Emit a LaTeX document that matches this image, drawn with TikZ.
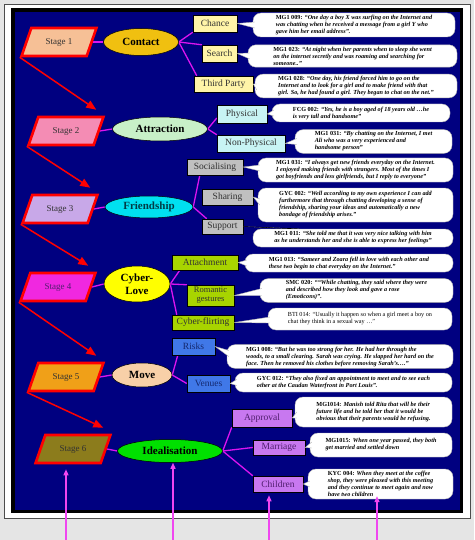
\documentclass[tikz,border=0pt]{standalone}
\usepackage{fontspec}
\setmainfont{Liberation Serif}
\usetikzlibrary{shapes.geometric,arrows.meta}
\pgfdeclarelayer{back}
\pgfdeclarelayer{bg}
\pgfsetlayers{back,bg,main}

\definecolor{navybg}{RGB}{0,0,128}
\definecolor{stageone}{RGB}{246,192,150}
\definecolor{stagetwo}{RGB}{244,140,180}
\definecolor{stagethree}{RGB}{200,168,232}
\definecolor{stagefour}{RGB}{240,40,224}
\definecolor{stagefive}{RGB}{240,160,24}
\definecolor{stagesix}{RGB}{140,124,28}
\definecolor{contactc}{RGB}{240,192,16}
\definecolor{attractc}{RGB}{200,240,200}
\definecolor{friendc}{RGB}{0,224,240}
\definecolor{lovec}{RGB}{255,255,0}
\definecolor{movec}{RGB}{248,208,168}
\definecolor{idealc}{RGB}{0,224,0}
\definecolor{paleyellow}{RGB}{255,244,168}
\definecolor{palecyan}{RGB}{200,244,244}
\definecolor{boxgray}{RGB}{192,192,192}
\definecolor{limegreen}{RGB}{168,212,0}
\definecolor{midblue}{RGB}{64,120,232}
\definecolor{violetbox}{RGB}{200,120,240}
\definecolor{linkmag}{RGB}{220,20,240}
\definecolor{pinkarrow}{RGB}{240,70,240}
\definecolor{boxtext}{RGB}{50,50,50}
\definecolor{bluetext}{RGB}{20,40,110}
\definecolor{purpletext}{RGB}{80,30,110}
\definecolor{friendtext}{RGB}{0,60,70}

\newcommand{\qfont}{\fontsize{6.2}{7}\selectfont}

\tikzset{
    stage/.style={trapezium, trapezium left angle=63, trapezium right angle=117,
        trapezium stretches=true, minimum width=75pt, minimum height=28pt,
        draw=red, line width=2.6pt, inner sep=1pt, text=boxtext,
        font=\fontsize{9}{10}\selectfont},
    topic/.style={ellipse, draw=black, line width=0.5pt, inner sep=0pt, align=center,
        font=\fontsize{11}{12.5}\selectfont\bfseries},
    subbox/.style={rectangle, draw=black, line width=0.5pt, inner sep=1pt, align=center,
        text=boxtext, font=\fontsize{9.5}{10}\selectfont},
    quote/.style={rectangle, rounded corners=8pt, fill=white, draw=gray!60, line width=0.4pt,
        inner sep=2pt, align=left, font=\qfont\bfseries\itshape},
    tail/.style={fill=white, draw=gray!60, line width=0.4pt},
    link/.style={draw=linkmag, line width=1.3pt},
    stagearrow/.style={draw=red, line width=1.5pt, -{Triangle[length=10pt,width=8pt]}},
    marker/.style={draw=pinkarrow, line width=1.3pt, -{Triangle[length=6pt,width=5pt]}}
}

\begin{document}
\begin{tikzpicture}[x=1pt, y=-1pt]
    \useasboundingbox (0,0) rectangle (474,540);
    \begin{pgfonlayer}{back}
        \fill[gray!20] (0,0) rectangle (474,540);
        \filldraw[fill=white, draw=gray!60!black, line width=0.8pt] (4,4) rectangle (470,518);
        \fill[black] (11,8) rectangle (463,513);
        \fill[navybg] (15,12) rectangle (460,510);
    \end{pgfonlayer}

    \node[stage, fill=stageone] (s1) at (59,42) {Stage 1};
    \node[stage, fill=stagetwo] (s2) at (66,131) {Stage 2};
    \node[stage, fill=stagethree] (s3) at (60,209) {Stage 3};
    \node[stage, fill=stagefour, text=purpletext] (s4) at (58,287) {Stage 4};
    \node[stage, fill=stagefive] (s5) at (66,377) {Stage 5};
    \node[stage, fill=stagesix] (s6) at (73,449) {Stage 6};

    \node[topic, fill=contactc, minimum width=75pt, minimum height=27pt] (contact) at (141,42) {Contact};
    \node[topic, fill=attractc, minimum width=95pt, minimum height=24pt] (attraction) at (160,129) {Attraction};
    \node[topic, fill=friendc, text=friendtext, minimum width=88pt, minimum height=22pt] (friendship) at (149,207) {Friendship};
    \node[topic, fill=lovec, minimum width=66pt, minimum height=36pt] (cyberlove) at (137,284) {Cyber-\\Love};
    \node[topic, fill=movec, minimum width=60pt, minimum height=24pt] (move) at (142,375) {Move};
    \node[topic, fill=idealc, minimum width=105pt, minimum height=23pt] (ideal) at (170,451) {Idealisation};

    \node[subbox, fill=paleyellow, minimum width=44pt, minimum height=17pt] (chance) at (215,23.5) {Chance};
    \node[subbox, fill=paleyellow, minimum width=35pt, minimum height=17pt] (search) at (219.5,53.5) {Search};
    \node[subbox, fill=paleyellow, minimum width=59pt, minimum height=16pt] (thirdparty) at (223.5,84) {Third Party};
    \node[subbox, fill=palecyan, minimum width=50pt, minimum height=18pt] (physical) at (242,114) {Physical};
    \node[subbox, fill=palecyan, minimum width=68pt, minimum height=17pt] (nonphysical) at (251,143.5) {Non-Physical};
    \node[subbox, fill=boxgray, minimum width=56pt, minimum height=16pt] (socialising) at (215,167) {Socialising};
    \node[subbox, fill=boxgray, minimum width=51pt, minimum height=16pt] (sharing) at (227.5,197) {Sharing};
    \node[subbox, fill=boxgray, minimum width=41pt, minimum height=15pt] (support) at (222.5,226.5) {Support};
    \node[subbox, fill=limegreen, minimum width=66pt, minimum height=15pt] (attachment) at (205,262.5) {Attachment};
    \node[subbox, fill=limegreen, minimum width=47pt, minimum height=21pt,
        font=\fontsize{8.5}{9}\selectfont] (romantic) at (210.5,295.5) {Romantic\\gestures};
    \node[subbox, fill=limegreen, minimum width=62pt, minimum height=15pt] (flirting) at (203,322.5) {Cyber-flirting};
    \node[subbox, fill=midblue, text=bluetext, minimum width=43pt, minimum height=17pt] (risks) at (193.5,346.5) {Risks};
    \node[subbox, fill=midblue, text=bluetext, minimum width=43pt, minimum height=17pt] (venues) at (208.5,383.5) {Venues};
    \node[subbox, fill=violetbox, text=purpletext, minimum width=60pt, minimum height=18pt] (approval) at (262,418) {Approval};
    \node[subbox, fill=violetbox, text=purpletext, minimum width=52pt, minimum height=15pt] (marriage) at (279,447.5) {Marriage};
    \node[subbox, fill=violetbox, text=purpletext, minimum width=50pt, minimum height=16pt] (children) at (278,484) {Children};

    \node[quote, minimum width=202pt, minimum height=24pt] (q1) at (354,25) {{\upshape MG1 009:} “One day a boy X was surfing on the Internet and\\ was chatting when he received a message from a girl Y who\\ gave him her email address”.};
    \node[quote, minimum width=209pt, minimum height=22pt] (q2) at (352.5,56) {{\upshape MG1 023:} “At night when her parents when to sleep she went\\ on the internet secretly and was roaming and searching for\\ someone..”};
    \node[quote, minimum width=202pt, minimum height=22pt] (q3) at (356,86) {{\upshape MG1 028:} “One day, his friend forced him to go on the\\ Internet and to look for a girl and to make friend with that\\ girl. So, he had found a girl. They began to chat on the net.”};
    \node[quote, minimum width=178pt, minimum height=18pt] (q4) at (361,113) {{\upshape FCG 002:} “Yes, he is a boy aged of 18 years old …he\\ is very tall and handsome”};
    \node[quote, minimum width=157pt, minimum height=23pt] (q5) at (373.5,141.5) {{\upshape MG1 031:} “By chatting on the Internet, I met\\ Ali who was a very experienced and\\ handsome person”};
    \node[quote, minimum width=195pt, minimum height=24pt] (q6) at (355.5,170) {{\upshape MG1 031:} “I always get new friends everyday on the Internet.\\ I enjoyed making friends with strangers. Most of the times I\\ got boyfriends and less girlfriends, but I reply to everyone”};
    \node[quote, minimum width=195pt, minimum height=34pt] (q7) at (355.5,205) {{\upshape GYC 002:} “Well according to my own experience I can add\\ furthermore that through chatting developing a sense of\\ friendship, sharing your ideas and automatically a new\\ bondage of friendship arises.”};
    \node[quote, minimum width=200pt, minimum height=18pt] (q8) at (353,238) {{\upshape MG1 011:} “She told me that it was very nice talking with him\\ as he understands her and she is able to express her feelings”};
    \node[quote, minimum width=208pt, minimum height=18pt] (q9) at (349,263) {{\upshape MG1 013:} “Sameer and Zoara fell in love with each other and\\ these two begin to chat everyday on the Internet.”};
    \node[quote, minimum width=193pt, minimum height=23pt] (q10) at (356.5,290.5) {{\upshape SMC 020:} ““While chatting, they said where they were\\ and described how they look and gave a rose\\ (Emoticons)”.};
    \node[quote, minimum width=184pt, minimum height=22pt, font=\qfont] (q11) at (360,319) {BTI 014: “Usually it happen so when a girl meet a boy on\\ chat they think in a sexual way …”};
    \node[quote, minimum width=226pt, minimum height=23pt] (q12) at (340,356.5) {{\upshape MG1 008:} “But he was too strong for her. He had her through the\\ woods, to a small clearing. Sarah was crying. He slapped her hard on the\\ face. Then he removed his clothes before removing Sarah’s….”};
    \node[quote, minimum width=217pt, minimum height=19pt] (q13) at (343.5,382.5) {{\upshape GYC 012:} “They also fixed an appointment to meet and to see each\\ other at the Caudan Waterfront in Port Louis”.};
    \node[quote, minimum width=157pt, minimum height=30pt] (q14) at (373.5,412) {{\upshape MG1014:} Manish told Rita that will be their\\ future life and he told her that it would be\\ obvious that their parents would be refusing.};
    \node[quote, minimum width=142pt, minimum height=24pt] (q15) at (381,445) {{\upshape MG1015:} When one year passed, they both\\ get married and settled down};
    \node[quote, minimum width=145pt, minimum height=30pt] (q16) at (380.5,484) {{\upshape KYC 004:} When they meet at the coffee\\ shop, they were pleased with this meeting\\ and they continue to meet again and now\\ have two children};

    \path[tail] ([xshift=2pt,yshift=3pt]q1.west) -- (chance.east) -- ([xshift=2pt,yshift=-3pt]q1.west);
    \path[tail] ([xshift=2pt,yshift=3pt]q2.west) -- (search.east) -- ([xshift=2pt,yshift=-3pt]q2.west);
    \path[tail] ([xshift=2pt,yshift=2pt]q3.west) -- (thirdparty.east) -- ([xshift=2pt,yshift=-4pt]q3.west);
    \path[tail] ([xshift=2pt,yshift=3pt]q4.west) -- (physical.east) -- ([xshift=2pt,yshift=-3pt]q4.west);
    \path[tail] ([xshift=2pt,yshift=3pt]q5.west) -- (nonphysical.east) -- ([xshift=2pt,yshift=-3pt]q5.west);
    \path[tail] ([xshift=2pt,yshift=5pt]q6.west) -- (socialising.east) -- ([xshift=2pt,yshift=-1pt]q6.west);
    \path[tail] ([xshift=2pt,yshift=6pt]q7.west) -- (sharing.east) -- ([xshift=2pt,yshift=0pt]q7.west);
    \path[tail, draw=black] ([xshift=40pt]q8.north west) -- (support.east) -- ([xshift=47pt]q8.north west);
    \path[tail] ([xshift=2pt,yshift=3pt]q9.west) -- (attachment.east) -- ([xshift=2pt,yshift=-3pt]q9.west);
    \path[tail] ([xshift=2pt,yshift=2pt]q10.west) -- (romantic.east) -- ([xshift=2pt,yshift=-5pt]q10.west);
    \path[tail] ([xshift=2pt,yshift=2pt]q11.west) -- (flirting.east) -- ([xshift=2pt,yshift=-4pt]q11.west);
    \path[tail] ([xshift=2pt,yshift=6pt]q12.west) -- (risks.east) -- ([xshift=2pt,yshift=0pt]q12.west);
    \path[tail] ([xshift=2pt,yshift=3pt]q13.west) -- (venues.east) -- ([xshift=2pt,yshift=-3pt]q13.west);
    \path[tail] ([xshift=2pt,yshift=0pt]q14.west) -- (approval.east) -- ([xshift=2pt,yshift=-6pt]q14.west);
    \path[tail] ([xshift=2pt,yshift=3pt]q15.west) -- (marriage.east) -- ([xshift=2pt,yshift=-3pt]q15.west);
    \path[tail] ([xshift=2pt,yshift=3pt]q16.west) -- (children.east) -- ([xshift=2pt,yshift=-3pt]q16.west);

    \coordinate (m1) at (66,540);
    \coordinate (m2) at (173,540);
    \coordinate (m3) at (269,540);
    \coordinate (m4) at (377,540);

    \begin{pgfonlayer}{bg}
        \draw[link] (s1.east) -- (contact.west);
        \draw[link] (s2.east) -- (attraction.west);
        \draw[link] (s3.east) -- (friendship.west);
        \draw[link] (s4.east) -- (cyberlove.west);
        \draw[link] (s5.east) -- (move.west);
        \draw[link] (s6.east) -- (ideal.west);

        \draw[link] (contact.east) -- (chance.south west);
        \draw[link] (contact.east) -- (search.north west);
        \draw[link] (contact.east) -- ([xshift=3pt]thirdparty.north west);
        \draw[link] (attraction.east) -- ([yshift=-4pt]physical.west);
        \draw[link] (attraction.east) -- (nonphysical.north west);
        \draw[link] (friendship.east) -- ([xshift=13pt]socialising.south west);
        \draw[link] (friendship.east) -- ([xshift=5pt]support.north west);
        \draw[link] (cyberlove.east) -- ([xshift=8pt]attachment.south west);
        \draw[link] (cyberlove.east) -- (romantic.north west);
        \draw[link] (cyberlove.east) -- ([xshift=5pt]flirting.north west);
        \draw[link] (move.east) -- ([xshift=6pt]risks.south west);
        \draw[link] (move.east) -- (venues.west);
        \draw[link] (ideal.east) -- (approval.south west);
        \draw[link] (ideal.east) -- (marriage.west);
        \draw[link] (ideal.east) -- (children.north west);
    \end{pgfonlayer}

    \draw[stagearrow] (s1.bottom left corner) -- ([xshift=-9pt,yshift=6pt]s2.top right corner);
    \draw[stagearrow] (s2.bottom left corner) -- ([xshift=-9pt,yshift=6pt]s3.top right corner);
    \draw[stagearrow] (s3.bottom left corner) -- ([xshift=-9pt,yshift=6pt]s4.top right corner);
    \draw[stagearrow] (s4.bottom left corner) -- ([xshift=-9pt,yshift=6pt]s5.top right corner);
    \draw[stagearrow] (s5.bottom left corner) -- ([xshift=-9pt,yshift=6pt]s6.top right corner);

    \draw[marker, shorten >=5pt] (m1) -- (m1 |- s6.south);
    \draw[marker] (m2) -- (m2 |- ideal.south);
    \draw[marker, shorten >=3pt] (m3) -- (m3 |- children.south);
    \draw[marker, shorten >=-3pt] (m4) -- (m4 |- q16.south);
\end{tikzpicture}
\end{document}
